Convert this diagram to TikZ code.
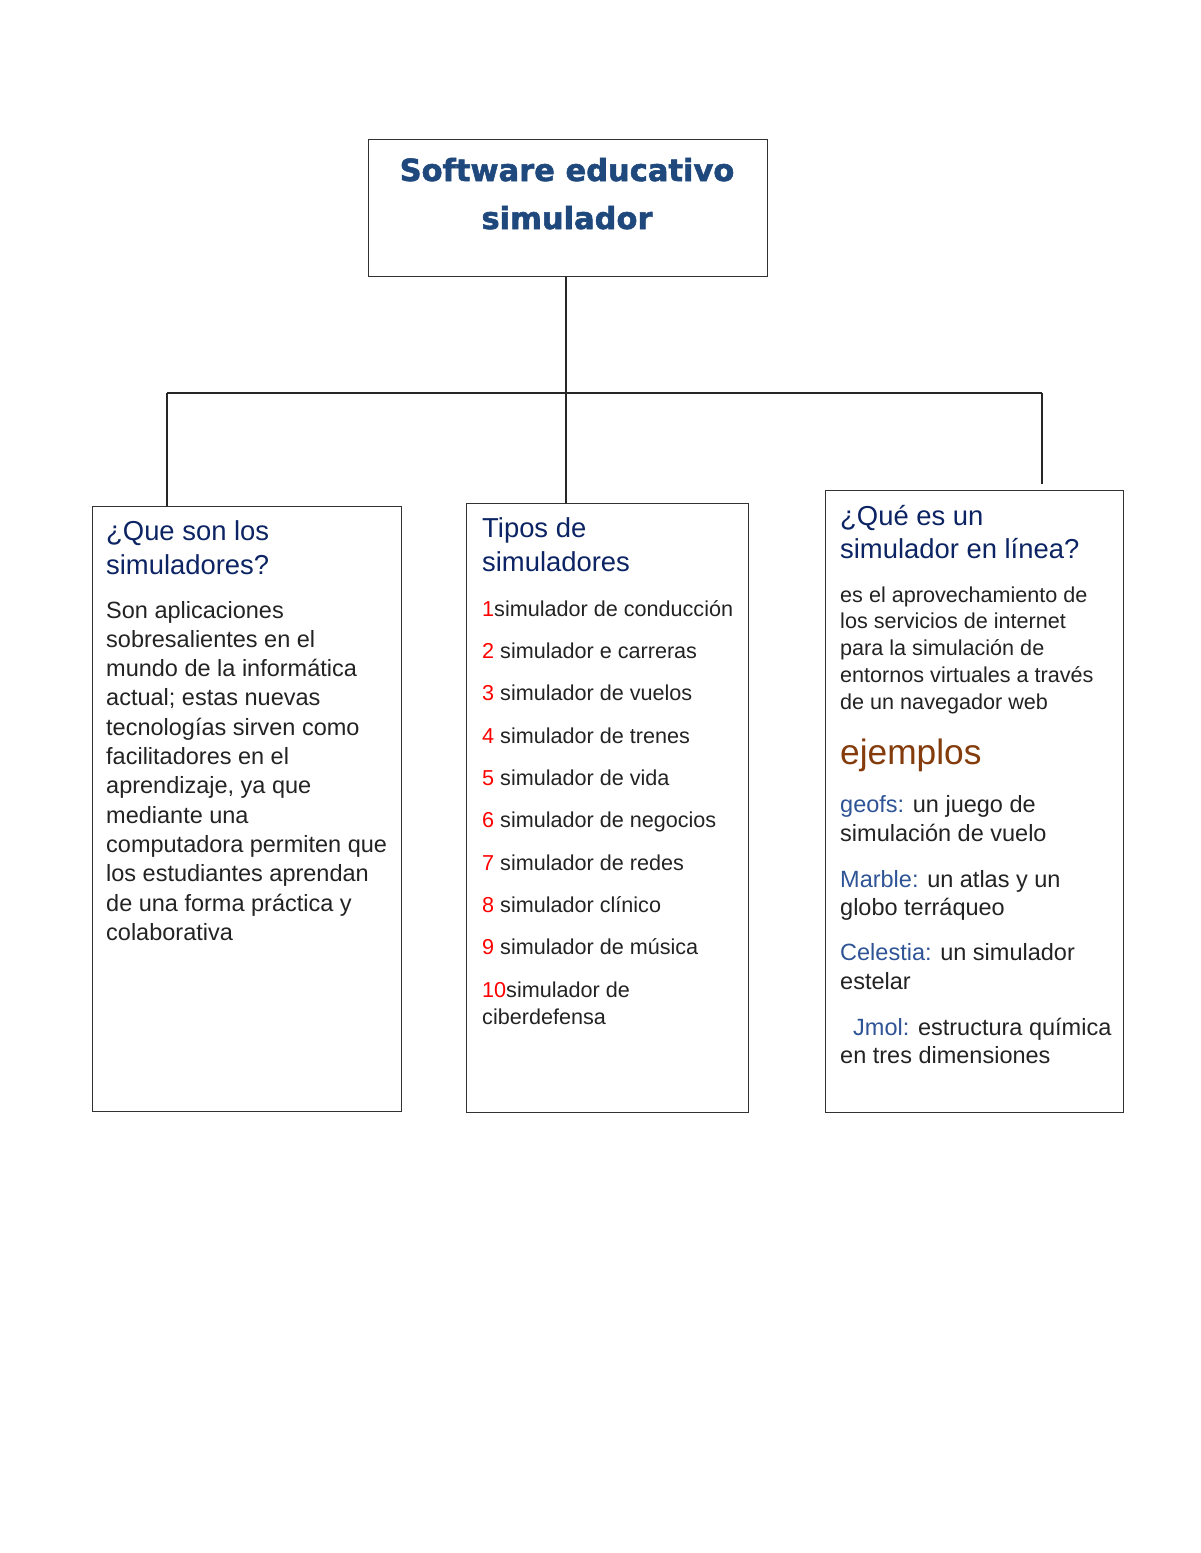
\documentclass[tikz,border=0pt]{standalone}
\usepackage{fontspec}
\setmainfont{Liberation Sans}
\newfontfamily\titlefont{DejaVu Sans}[BoldFeatures={FakeBold=1.8}]
\definecolor{titleblue}{RGB}{31,73,125}
\definecolor{headnavy}{RGB}{12,36,100}
\definecolor{bodyblack}{RGB}{35,35,35}
\definecolor{boxgray}{RGB}{50,50,50}
\definecolor{numred}{RGB}{255,0,0}
\definecolor{labelblue}{RGB}{46,84,150}
\definecolor{brownex}{RGB}{132,60,12}
\newcommand{\nr}[1]{\textcolor{numred}{#1}}
\newcommand{\lb}[1]{\textcolor{labelblue}{#1}}
\begin{document}
\begin{tikzpicture}[x=1pt,y=-1pt,
  box/.style={draw=boxgray, line width=1.3pt, inner sep=0pt, anchor=north west, fill=none},
  conn/.style={draw=black!85, line width=1.3pt},
  txt/.style={anchor=base west, inner sep=0pt, text=bodyblack},
  titletxt/.style={anchor=base, inner sep=0pt, text=titleblue, font=\titlefont\bfseries\fontsize{30.5}{36}\selectfont},
  headtxt/.style={txt, text=headnavy, font=\fontsize{27.4}{34}\selectfont},
  bodytxt/.style={txt, font=\fontsize{23.5}{29}\selectfont},
  smalltxt/.style={txt, font=\fontsize{21.6}{27}\selectfont},
  extxt/.style={txt, text=brownex, font=\fontsize{35.3}{40}\selectfont}]
\useasboundingbox (0,0) rectangle (1200,1553);
\fill[white] (0,0) rectangle (1200,1553);

% boxes
\node[box, minimum width=399pt, minimum height=137pt] (top) at (368,139) {};
\node[box, minimum width=309pt, minimum height=605pt] (left) at (92,506) {};
\node[box, minimum width=282pt, minimum height=609pt] (mid) at (466,503) {};
\node[box, minimum width=298pt, minimum height=622pt] (right) at (825,490) {};

% connectors
\coordinate (bus) at (566,393);
\coordinate (bl) at (167,393);
\coordinate (br) at (1042,393);
\draw[conn] (top.south -| bus) -- (bus);
\draw[conn] (bl) -- (br);
\draw[conn] (bl) -- (bl |- left.north);
\draw[conn] (bus) -- (bus |- mid.north);
\draw[conn, shorten >=6pt] (br) -- (br |- right.north);

% title
\node[titletxt] (t1) at (567,181) {Software educativo};
\node[titletxt] (t2) at (567,229) {simulador};

% left box
\node[headtxt] (lh1) at (106,540) {¿Que son los};
\node[headtxt] (lh2) at (106,574) {simuladores?};
\foreach \t [count=\i] in {Son aplicaciones, sobresalientes en el, mundo de la informática,
  actual; estas nuevas, tecnologías sirven como, facilitadores en el,
  {aprendizaje, ya que}, mediante una, computadora permiten que,
  los estudiantes aprendan, de una forma práctica y, colaborativa}
  \node[bodytxt] (lb\i) at (106,{618+29.3*(\i-1)}) {\t};

% middle box
\node[headtxt] (mh1) at (482,537) {Tipos de};
\node[headtxt] (mh2) at (482,571) {simuladores};
\foreach \t [count=\i] in {{\nr{1}simulador de conducción}, {\nr{2} simulador e carreras},
  {\nr{3} simulador de vuelos}, {\nr{4} simulador de trenes}, {\nr{5} simulador de vida},
  {\nr{6} simulador de negocios}, {\nr{7} simulador de redes}, {\nr{8} simulador clínico},
  {\nr{9} simulador de música}, {\nr{10}simulador de}}
  \node[smalltxt] (mi\i) at (482,{616+42.35*(\i-1)}) {\t};
\node[smalltxt] (mi11) at (482,1024) {ciberdefensa};

% right box
\node[headtxt] (rh1) at (840,525) {¿Qué es un};
\node[headtxt] (rh2) at (840,558) {simulador en línea?};
\foreach \t [count=\i] in {es el aprovechamiento de, los servicios de internet,
  para la simulación de, entornos virtuales a través, de un navegador web}
  \node[smalltxt] (rb\i) at (840,{602+26.8*(\i-1)}) {\t};
\node[extxt] (ej) at (840,764) {ejemplos};
\node[bodytxt] (e1) at (840,812) {\lb{geofs:} un juego de};
\node[bodytxt] (e2) at (840,841) {simulación de vuelo};
\node[bodytxt] (e3) at (840,887) {\lb{Marble:} un atlas y un};
\node[bodytxt] (e4) at (840,915) {globo terráqueo};
\node[bodytxt] (e5) at (840,960) {\lb{Celestia:} un simulador};
\node[bodytxt] (e6) at (840,989) {estelar};
\node[bodytxt] (e7) at (853,1035) {\lb{Jmol:} estructura química};
\node[bodytxt] (e8) at (840,1063) {en tres dimensiones};
\end{tikzpicture}
\end{document}
